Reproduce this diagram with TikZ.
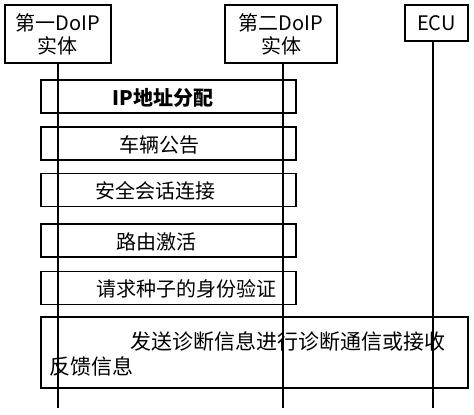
\documentclass[tikz,border=0pt]{standalone}
\usepackage{fontspec}
\setmainfont{Noto Sans CJK SC}
\usetikzlibrary{positioning}
\begin{document}
\begin{tikzpicture}[x=1pt,y=-1pt,
	kopf/.style={draw, line width=1.3pt, inner sep=0pt, align=center, font=\fontsize{20}{23}\selectfont},
	phase/.style={draw, line width=1.8pt, minimum width=255pt, minimum height=33pt, inner sep=0pt},
	schrift/.style={inner sep=0pt, font=\fontsize{20}{25}\selectfont},
	leben/.style={line width=1.4pt}]
	\useasboundingbox (0,0) rectangle (474,415);
	% Kopfzeile
	\node[kopf, minimum width=106pt, minimum height=58pt] (dA) at (58,34) {第一DoIP\\实体};
	\node[kopf, minimum width=112pt, minimum height=58pt] (dB) at (281,34) {第二DoIP\\实体};
	\node[kopf, minimum width=63pt, minimum height=36pt] (ecu) at (436.5,23) {ECU};
	\coordinate (eA) at (58,408);
	\coordinate (eB) at (283,408);
	\coordinate (eC) at (433,408);
	% Lebenslinien
	\draw[leben] (dA.south) -- (eA);
	\draw[leben] (dB.south -| eB) -- (eB);
	\draw[leben] (ecu.south -| eC) -- (eC);
	% Phasen
	\foreach \y/\tx/\t/\n in {96.5/163/{\bfseries IP地址分配}/ip, 143.5/159/车辆公告/ann,
		190/155/安全会话连接/sec, 240.5/156/路由激活/rout, 288/186/请求种子的身份验证/seed}{
		\node[phase] (p\n) at (168.5,\y) {};
		\node[schrift] (t\n) at (\tx,\y+1) {\t};
	}
	\node[phase, minimum width=427pt, minimum height=71pt] (pdiag) at (254.5,352.5) {};
	\node[schrift, font=\fontsize{21}{25}\selectfont, anchor=north west, align=left] (tdiag) at (49,331) {\hspace*{81pt}发送诊断信息进行诊断通信或接收\\反馈信息};
\end{tikzpicture}
\end{document}
